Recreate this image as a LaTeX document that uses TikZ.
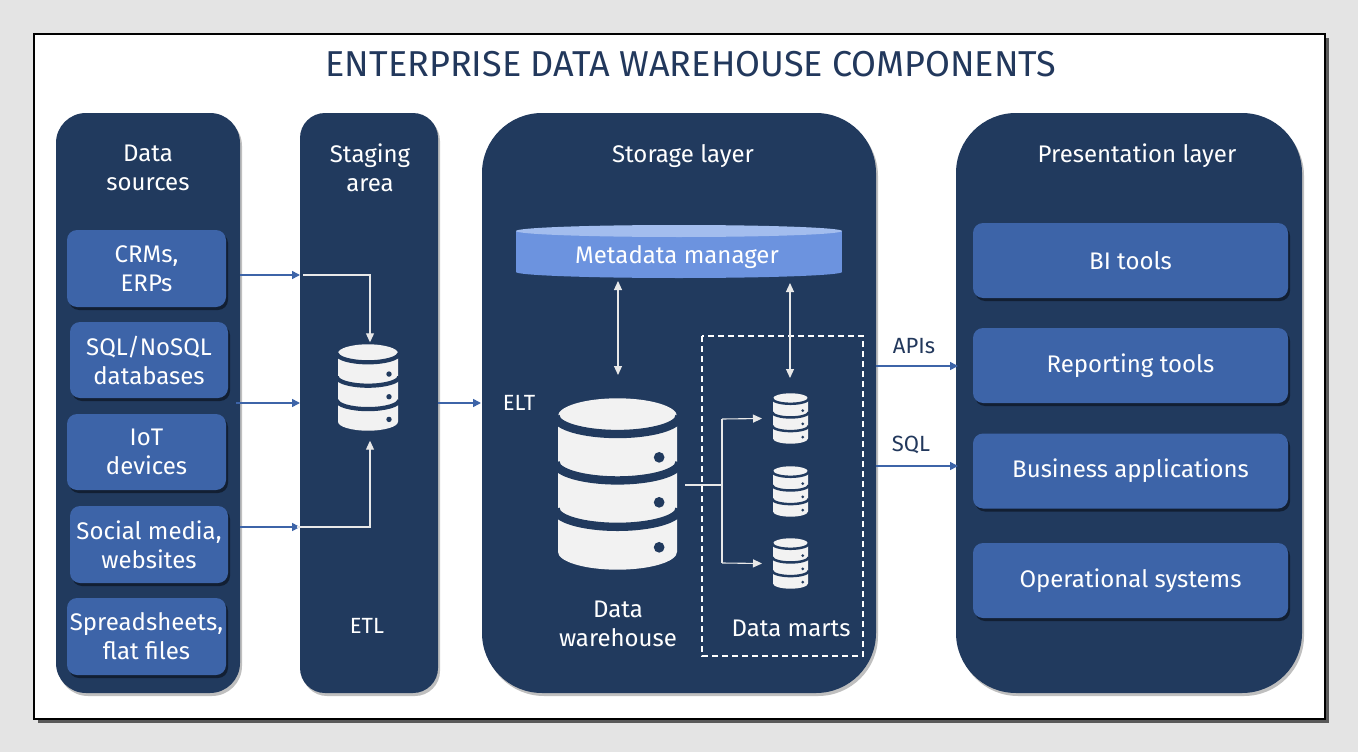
\documentclass[tikz,border=0pt]{standalone}
\usepackage{fontspec}
\setmainfont{Fira Sans}
\usetikzlibrary{arrows.meta,shadows,calc}
\definecolor{bggray}{HTML}{E4E4E4}
\definecolor{navy}{HTML}{213A5E}
\definecolor{subblue}{HTML}{3D64A8}
\definecolor{metabody}{HTML}{6C93DF}
\definecolor{metatop}{HTML}{A3BDEE}
\definecolor{dbfill}{HTML}{F2F2F2}
\definecolor{titlecol}{HTML}{22385C}
\definecolor{linewhite}{HTML}{E8E8E8}
\newcommand{\dbicon}[3]{%
\begin{scope}[shift={(#1,#2)},xscale=#3,yscale=-#3]
 \fill[dbfill] (-0.5,0.57) arc[start angle=180,end angle=0,x radius=0.5,y radius=0.15] -- (0.5,-0.57) arc[start angle=0,end angle=-180,x radius=0.5,y radius=0.15] -- cycle;
 \foreach \c in {0.57,0.18,-0.21} \draw[navy,line width={#3*0.07pt}] (-0.52,\c) arc[start angle=180,end angle=360,x radius=0.52,y radius=0.15];
 \foreach \c in {0.224,-0.154,-0.532} \fill[navy] (0.35,\c) circle[radius=0.045];
\end{scope}}
\tikzset{
 panel/.style={fill=navy, inner sep=0pt, minimum height=580pt, drop shadow={shadow xshift=2pt, shadow yshift=-3pt, opacity=0.25, fill=black}},
 subbox/.style={fill=subblue, rounded corners=10pt, inner sep=0pt, text=white, align=center, font=\fontsize{24}{29}\selectfont, drop shadow={shadow xshift=2pt, shadow yshift=-3pt, opacity=0.45, fill=black}},
 ptitle/.style={text=white, align=center, font=\fontsize{24}{29}\selectfont},
 lbl/.style={text=white, font=\fontsize{22}{26}\selectfont},
 dlbl/.style={text=titlecol, font=\fontsize{22}{26}\selectfont},
 barrow/.style={draw=subblue, line width=1.6pt, -{Triangle[length=8pt,width=8pt]}},
 warrow/.style={draw=linewhite, line width=1.1pt, -{Triangle[length=9pt,width=8pt]}},
 wline/.style={draw=linewhite, line width=1.1pt},
 dbnode/.style={inner sep=0pt, draw=none},
}
\begin{document}
\begin{tikzpicture}[x=1pt,y=-1pt]
\useasboundingbox (0,0) rectangle (1358,752);
\fill[bggray] (0,0) rectangle (1358,752);
\fill[black!65] (38,38) rectangle (1329,723);
\draw[black, line width=1.2pt, fill=white] (34,34) rectangle (1325,719);

\node[text=titlecol, font=\fontsize{36}{42}\selectfont] (title) at (691,64) {ENTERPRISE DATA WAREHOUSE COMPONENTS};

% panels
\node[panel, minimum width=184pt, rounded corners=30pt] (src) at (148,403) {};
\node[panel, minimum width=138pt, rounded corners=25pt] (stg) at (369,403) {};
\node[panel, minimum width=394pt, rounded corners=60pt] (sto) at (679,403) {};
\node[panel, minimum width=346pt, rounded corners=60pt] (pre) at (1129,403) {};

\node[ptitle] (srct) at (148,168) {Data\\sources};
\node[ptitle] (stgt) at (370,168) {Staging\\area};
\node[ptitle] (stot) at (683,156) {Storage layer};
\node[ptitle] (pret) at (1137,156) {Presentation layer};

% data sources
\node[subbox, minimum width=159pt, minimum height=77pt] (crm) at (146.5,268.5) {CRMs,\\ERPs};
\node[subbox, minimum width=158pt, minimum height=76pt] (sql) at (149,360) {SQL/NoSQL\\databases};
\node[subbox, minimum width=159pt, minimum height=76pt] (iot) at (146.5,452) {IoT\\devices};
\node[subbox, minimum width=158pt, minimum height=77pt] (soc) at (149,544.5) {Social media,\\websites};
\node[subbox, minimum width=159pt, minimum height=77pt] (spr) at (146.5,636.5) {Spreadsheets,\\flat files};

% presentation
\node[subbox, minimum width=315pt, minimum height=75pt] (bi) at (1130.5,260.5) {BI tools};
\node[subbox, minimum width=315pt, minimum height=75pt] (rep) at (1130.5,365.5) {Reporting tools};
\node[subbox, minimum width=315pt, minimum height=75pt] (bus) at (1130.5,471) {Business applications};
\node[subbox, minimum width=315pt, minimum height=75pt] (ops) at (1130.5,580.5) {Operational systems};

% source -> staging arrows
\coordinate (a1s) at (240,275); \coordinate (a1e) at (300,275);
\coordinate (a2s) at (236,403); \coordinate (a2e) at (300,403);
\coordinate (a3s) at (240,527); \coordinate (a3e) at (300,527);
\draw[barrow] (a1s) -- (a1e);
\draw[barrow] (a2s) -- (a2e);
\draw[barrow] (a3s) -- (a3e);

% staging icon
\dbicon{368}{387.5}{60}
\node[dbnode, minimum width=60pt, minimum height=82pt] (stgdb) at (368,387.5) {};
\coordinate (w1s) at (303,275);
\coordinate (w3s) at (297,527);
\draw[warrow] (w1s) -| ($(stgdb.north)+(2,-4)$);
\draw[warrow] (w3s) -| ($(stgdb.south)+(2,12)$);

\node[lbl] (etl) at (367,626) {ETL};

% staging -> storage
\coordinate (b1s) at (438,403); \coordinate (b1e) at (481,403);
\draw[barrow] (b1s) -- (b1e);
\node[lbl] (elt) at (519,403) {ELT};

% metadata manager
\fill[metabody] (516,231) rectangle (842,272);
\fill[metabody] (679,272) ellipse[x radius=163, y radius=6];
\fill[metatop] (679,231) ellipse[x radius=163, y radius=6];
\node[inner sep=0pt, minimum width=326pt, minimum height=52pt, text=white, font=\fontsize{24}{29}\selectfont] (meta) at (677,257) {Metadata manager};

% data warehouse
\dbicon{617.5}{484}{119}
\node[dbnode, minimum width=119pt, minimum height=172pt] (dw) at (617.5,484) {};
\node[ptitle] (dwt) at (618,624) {Data\\warehouse};

% data marts
\draw[white, line width=1.4pt, dash pattern=on 6pt off 4pt] (702,336) rectangle (863,656);
\dbicon{790.5}{418.5}{35}
\dbicon{790.5}{491.5}{35}
\dbicon{790.5}{563.5}{35}
\node[dbnode, minimum width=35pt, minimum height=50pt] (dm1) at (790.5,418.5) {};
\node[dbnode, minimum width=35pt, minimum height=50pt] (dm2) at (790.5,491.5) {};
\node[dbnode, minimum width=35pt, minimum height=50pt] (dm3) at (790.5,563.5) {};
\node[ptitle] (dmt) at (791,628) {Data marts};

% metadata arrows
\draw[wline, {Triangle[length=9pt,width=8pt]}-{Triangle[length=9pt,width=8pt]}] (618,281) -- (618,375);
\draw[wline, {Triangle[length=9pt,width=8pt]}-{Triangle[length=9pt,width=8pt]}] (790,283) -- (790,378);

% dw -> marts
\coordinate (br) at (722,485);
\draw[wline] (685,485) -- (br);
\draw[wline] (722,419) -- (722,563);
\draw[warrow] (722,419) -- (dm1.west -| 762,0);
\draw[warrow] (722,563) -- (dm3.west -| 762,0);

% storage -> presentation
\draw[barrow] (876,366) -- (958,366);
\draw[barrow] (876,466) -- (958,466);
\node[dlbl] (apis) at (914,346) {APIs};
\node[dlbl] (sqll) at (911,445) {SQL};
\end{tikzpicture}
\end{document}
